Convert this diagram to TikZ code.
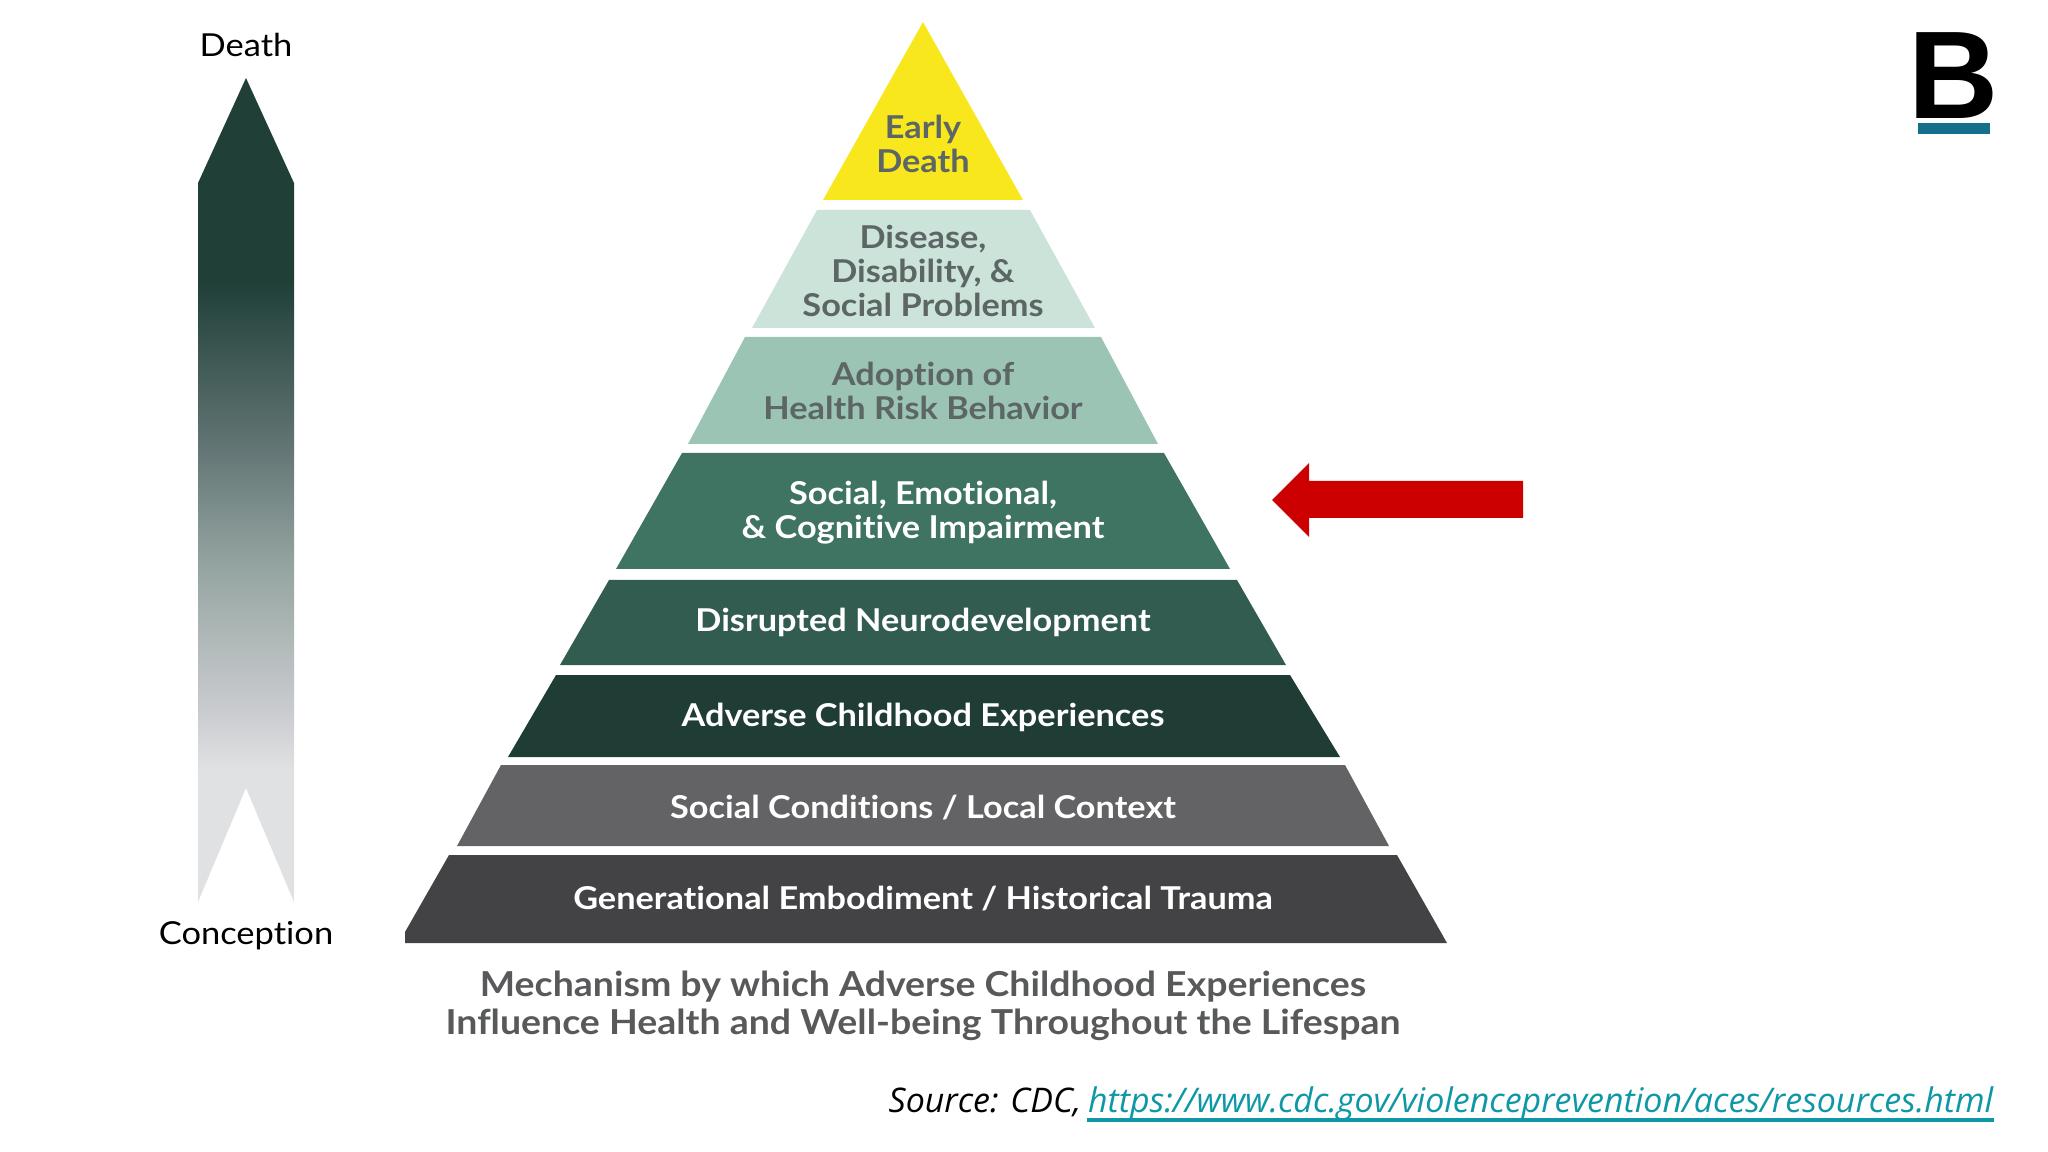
\documentclass[tikz,border=0pt]{standalone}
\usepackage{fontspec}
\setmainfont[FakeStretch=1.09,Ligatures=CommonOff]{Lato}
\newfontfamily\sourcefont{Open Sans}
\newfontfamily\logofont{Liberation Sans}
\definecolor{earlyY}{HTML}{F9E71E}
\definecolor{diseaseG}{HTML}{CBE3D9}
\definecolor{adoptG}{HTML}{9CC4B5}
\definecolor{socialG}{HTML}{3F7362}
\definecolor{disruptG}{HTML}{325C50}
\definecolor{adverseG}{HTML}{1F3D35}
\definecolor{condG}{HTML}{636365}
\definecolor{genG}{HTML}{434245}
\definecolor{labelG}{HTML}{5C6664}
\definecolor{capG}{HTML}{58595B}
\definecolor{arrowR}{HTML}{CC0000}
\definecolor{linkT}{HTML}{0E97A6}
\definecolor{logoT}{HTML}{12708A}
\definecolor{shadeA}{HTML}{E0E1E3}
\definecolor{shadeB}{HTML}{CBCDD0}
\definecolor{shadeC}{HTML}{B0B8B8}
\definecolor{shadeD}{HTML}{93A3A0}
\definecolor{shadeE}{HTML}{637675}
\definecolor{shadeF}{HTML}{1F3F37}
\pgfdeclareverticalshading{lifespan}{100bp}{
  color(0bp)=(shadeA);
  color(33bp)=(shadeA);
  color(36.3bp)=(shadeB);
  color(41bp)=(shadeC);
  color(45.6bp)=(shadeD);
  color(52.5bp)=(shadeE);
  color(62.7bp)=(shadeF);
  color(100bp)=(shadeF)}
\begin{document}
\begin{tikzpicture}[
    x=0.01cm, y=-0.01cm,
    slabtext/.style={font=\bfseries\fontsize{8.95}{9.6}\selectfont, align=center, text=white, inner sep=0pt},
    slabdark/.style={slabtext, text=labelG},
    endtext/.style={font=\fontsize{9}{10}\selectfont, inner sep=0pt},
    sourcetext/.style={font=\sourcefont\itshape\fontsize{9.65}{12}\selectfont, inner sep=0pt}
  ]
  \useasboundingbox (0,0) rectangle (2048,1152);
  % lifespan arrow
  \shade[shading=lifespan] (246,78) -- (294,183) -- (294,902) -- (246,788) -- (198,902) -- (198,183) -- cycle;
  \node[endtext] (death) at (246,45) {Death};
  \node[endtext] (conception) at (246,936) {Conception};
  % pyramid
  \fill[earlyY] (923,22) -- (1023,200) -- (823,200) -- cycle;
  \fill[diseaseG] (817,210) -- (1030,210) -- (1095,328) -- (752,328) -- cycle;
  \fill[adoptG] (745,337) -- (1101,337) -- (1158,444) -- (688,444) -- cycle;
  \fill[socialG] (682,453) -- (1164,453) -- (1230,569) -- (616,569) -- cycle;
  \fill[disruptG] (609,580) -- (1237,580) -- (1286,665) -- (560,665) -- cycle;
  \fill[adverseG] (556,675) -- (1290,675) -- (1340,757) -- (508,757) -- cycle;
  \fill[condG] (501,765) -- (1345,765) -- (1389,846) -- (457,846) -- cycle;
  \fill[genG] (449,855) -- (1397,855) -- (1447,943) -- (405,943) -- (405,932) -- cycle;
  \node[slabdark] (early) at (923,144) {Early\\Death};
  \node[slabdark] (disease) at (923,271) {Disease,\\Disability, \&\\Social Problems};
  \node[slabdark] (adoption) at (923,391) {Adoption of\\Health Risk Behavior};
  \node[slabtext] (impair) at (923,513) {Social, Emotional,\\\& Cognitive Impairment};
  \node[slabtext] (neuro) at (923,622) {Disrupted Neurodevelopment};
  \node[slabtext] (aces) at (923,717) {Adverse Childhood Experiences};
  \node[slabtext] (context) at (923,808) {Social Conditions / Local Context};
  \node[slabtext] (trauma) at (923,899) {Generational Embodiment / Historical Trauma};
  \node[font=\bfseries\fontsize{9.77}{10.8}\selectfont, align=center, text=capG, inner sep=0pt] (caption) at (923,1006) {Mechanism by which Adverse Childhood Experiences\\Influence Health and Well-being Throughout the Lifespan};
  % red arrow
  \fill[arrowR] (1272,500) -- (1309,463) -- (1309,481) -- (1523,481) -- (1523,518) -- (1309,518) -- (1309,537) -- cycle;
  % logo
  \node[font=\logofont\bfseries\fontsize{35.5}{38}\selectfont, inner sep=0pt, anchor=base] (logo) at (1954,119) {B};
  \fill[logoT] (1918,123) rectangle (1990,134);
  % source
  \node[sourcetext, anchor=base west] (source) at (888,1112) {Source: CDC,};
  \node[sourcetext, anchor=base east, text=linkT] (link) at (1994,1112) {https://www.cdc.gov/violenceprevention/aces/resources.html};
  \draw[linkT, line width=0.9pt] ([yshift=-8*0.01cm]link.base west) -- ([yshift=-8*0.01cm]link.base east);
\end{tikzpicture}
\end{document}
